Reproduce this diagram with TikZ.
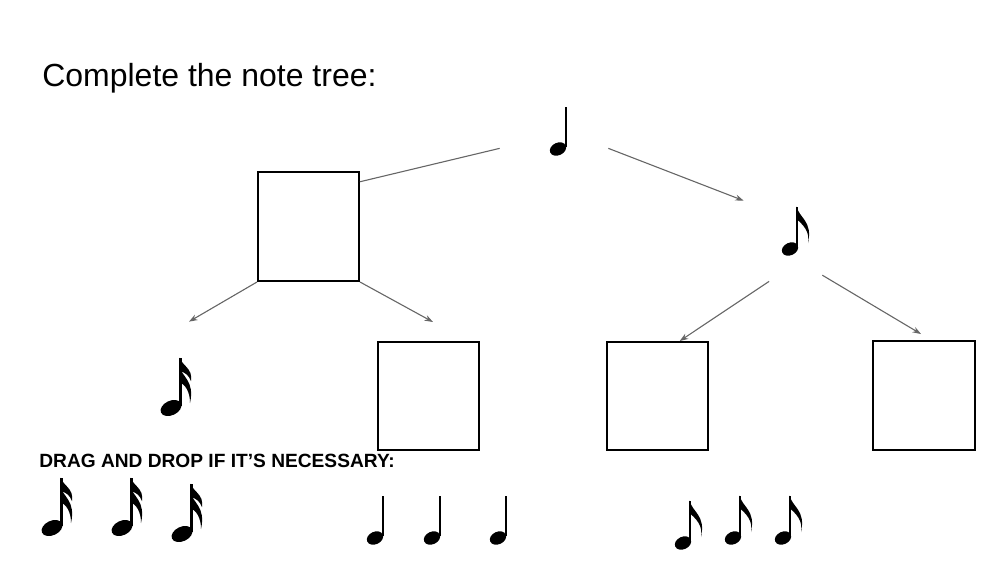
\documentclass[tikz,border=0pt]{standalone}
\usepackage{fontspec}
\setmainfont{Liberation Sans}
\usepackage{tikz}
\usetikzlibrary{arrows.meta,calc,positioning}

\tikzset{
	quarter/.pic = {
		\fill [rotate=25] (0,0) ellipse [x radius=0.17cm, y radius=0.125cm];
		\draw [line width=0.04cm] (7.8,-2) -- (7.8,-42);
	},
	eighth/.pic = {
		\fill [rotate=25] (0,0) ellipse [x radius=0.17cm, y radius=0.125cm];
		\draw [line width=0.04cm] (7.3,-2) -- (7.3,-42);
		\fill (6.6,-42.5) .. controls (9,-31) and (23,-28) .. (18,-6)
			.. controls (20,-18) and (13,-24) .. (6.6,-30) -- cycle;
	},
	sixteenth/.pic = {
		\fill [rotate=25] (0,0) ellipse [x radius=0.22cm, y radius=0.145cm];
		\draw [line width=0.065cm] (9.5,-2) -- (9.5,-50);
		\fill (8.8,-50.5) .. controls (11,-42) and (22,-40) .. (20,-27)
			.. controls (18,-33) and (13,-36) .. (8.8,-37) -- cycle;
		\fill (8.8,-41) .. controls (11,-31) and (24,-27) .. (19,-5)
			.. controls (19,-17) and (14,-23) .. (8.8,-26) -- cycle;
	}
}

\begin{document}
\begin{tikzpicture}
[
	              x = 0.02cm,
	              y = -0.02cm,
	             >= {Stealth[length=0.17cm, width=0.12cm]},
	    link/.style = { draw=black!60, line width=0.022cm },
	  answer/.style = { draw=black, line width=0.04cm, inner sep=0pt,
	                    minimum width=2.02cm, minimum height=2.16cm },
	  holder/.style = { inner sep=0pt }
]
	\useasboundingbox (0,0) rectangle (1000,562);

	% texts
	\node (title) at (42,86) [anchor=base west, inner sep=0pt]
		{\fontsize{18.2}{22}\selectfont Complete the note tree:};
	\node (drag) at (39,467) [anchor=base west, inner sep=0pt]
		{\fontsize{10.9}{13}\selectfont\bfseries DRAG AND DROP IF IT’S NECESSARY:};

	% nodes
	\node (top)       at (554,128)     [holder, minimum width=2.16cm, minimum height=0.8cm] {};
	\node (eighth)    at (783,241)     [holder, minimum width=1.56cm, minimum height=1.6cm] {};
	\node (sixteenth) at (189,372)     [holder, minimum width=1.4cm, minimum height=2cm]   {};
	\node (lbox)      at (308.5,226.5) [answer, minimum height=2.18cm] {};
	\node (box2)      at (428.5,396)   [answer] {};
	\node (box3)      at (657.5,396)   [answer] {};
	\node (box4)      at (924,395.5)   [answer, minimum width=2.04cm, minimum height=2.18cm] {};
	\coordinate (drop2) at (433,322);
	\coordinate (drop4) at (921,334);

	% notes in the tree
	\pic at (558,149) {quarter};
	\pic at (790,249) {eighth};
	\pic at (171,408) {sixteenth};

	% notes to drag
	\pic at (52,528)  {sixteenth};
	\pic at (122,528) {sixteenth};
	\pic at (182,534) {sixteenth};
	\pic at (375,538) {quarter};
	\pic at (432,538) {quarter};
	\pic at (498,538) {quarter};
	\pic at (683,543) {eighth};
	\pic at (733,538) {eighth};
	\pic at (783,538) {eighth};

	% edges
	\draw [link]     (top.south west) -- (lbox.41);
	\draw [link, ->] (top.south east) -- (eighth.north west);
	\draw [link, ->] (lbox.south west) -- (sixteenth.north);
	\draw [link, ->] (lbox.south east) -- (drop2);
	\draw [link, ->] (eighth.-109) -- (box3.68);
	\draw [link, ->] (eighth.-41) -- (drop4);
\end{tikzpicture}
\end{document}
